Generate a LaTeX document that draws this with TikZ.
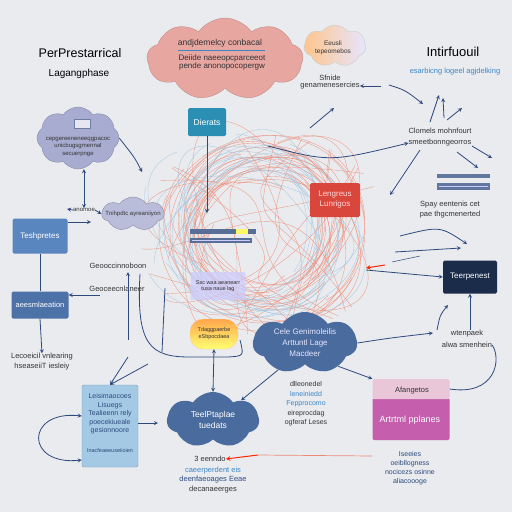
\documentclass[tikz,border=0pt]{standalone}
\usepackage{fontspec}
\setmainfont{Liberation Sans}
\usetikzlibrary{shapes.symbols}
\definecolor{bg}{HTML}{E9EBEF}
\definecolor{navy}{HTML}{2E4A7D}
\definecolor{txtblue}{HTML}{3B86C4}
\definecolor{pinkcl}{HTML}{E8A6A1}
\definecolor{lavcl}{HTML}{A9ACD1}
\definecolor{tealbox}{HTML}{2B8FB4}
\definecolor{blueboxA}{HTML}{5A86C0}
\definecolor{blueboxB}{HTML}{4D72A8}
\definecolor{lightbox}{HTML}{A3C9E5}
\definecolor{navycl}{HTML}{4A6B9D}
\definecolor{darkbox}{HTML}{1B2B4A}
\definecolor{redbox}{HTML}{D9463B}
\definecolor{pinkbox}{HTML}{C45EAD}
\definecolor{pinktab}{HTML}{E9C6D8}
\definecolor{netr}{HTML}{EE8A74}
\definecolor{netb}{HTML}{9FC4DF}
\begin{document}
\begin{tikzpicture}[x=1pt, y=-1pt, >=stealth,
  lbl/.style={font=\fontsize{7.5}{8.5}\selectfont, text=black!80, inner sep=0pt},
  blbl/.style={lbl, text=txtblue},
  wlbl/.style={lbl, text=white},
  arr/.style={->, navy, line width=0.8pt},
  wire/.style={navy, line width=0.8pt},
  cloudbox/.style={cloud, cloud puffs=9, cloud puff arc=110, aspect=2, inner sep=0pt},
  box/.style={rectangle, rounded corners=1.5pt, inner sep=0pt},
  netred/.style={draw=netr, line width=0.35pt, opacity=0.85},
  netblue/.style={draw=netb, line width=0.35pt, opacity=0.85}]
\fill[bg] (0,0) rectangle (512,512);
\useasboundingbox (0,0) rectangle (512,512);

% wire ball
\pgfmathsetseed{11}
\foreach \i in {1,...,44}{
  \pgfmathsetmacro{\rx}{random(55,122)}
  \pgfmathsetmacro{\ry}{random(45,100)}
  \pgfmathsetmacro{\rot}{random(0,179)}
  \pgfmathsetmacro{\st}{random(0,359)}
  \pgfmathsetmacro{\span}{random(90,260)}
  \pgfmathsetmacro{\nsx}{262+\rx*cos(\st)}
  \pgfmathsetmacro{\nsy}{232+\ry*sin(\st)}
  \draw[netred, rotate around={\rot:(262,232)}] (\nsx,\nsy) arc[start angle=\st, delta angle=\span, x radius=\rx, y radius=\ry];
}
\foreach \i in {1,...,26}{
  \pgfmathsetmacro{\rx}{random(55,122)}
  \pgfmathsetmacro{\ry}{random(45,100)}
  \pgfmathsetmacro{\rot}{random(0,179)}
  \pgfmathsetmacro{\st}{random(0,359)}
  \pgfmathsetmacro{\span}{random(90,260)}
  \pgfmathsetmacro{\nsx}{255+\rx*cos(\st)}
  \pgfmathsetmacro{\nsy}{228+\ry*sin(\st)}
  \draw[netblue, rotate around={\rot:(255,228)}] (\nsx,\nsy) arc[start angle=\st, delta angle=\span, x radius=\rx, y radius=\ry];
}
\foreach \i in {1,...,14}{
  \pgfmathsetmacro{\angA}{random(0,359)}
  \pgfmathsetmacro{\angB}{\angA+random(90,230)}
  \pgfmathsetmacro{\nsx}{265+125*cos(\angA)}
  \pgfmathsetmacro{\nsy}{235+100*sin(\angA)}
  \pgfmathsetmacro{\nex}{265+125*cos(\angB)}
  \pgfmathsetmacro{\ney}{235+100*sin(\angB)}
  \pgfmathsetmacro{\npx}{265+random(-110,110)}
  \pgfmathsetmacro{\npy}{235+random(-95,95)}
  \pgfmathsetmacro{\nqx}{265+random(-110,110)}
  \pgfmathsetmacro{\nqy}{235+random(-95,95)}
  \draw[netred] (\nsx,\nsy) .. controls (\npx,\npy) and (\nqx,\nqy) .. (\nex,\ney);
}

% titles
\node[font=\fontsize{12.5}{14}\selectfont] (ttlPre) at (80,53) {PerPrestarrical};
\node[font=\fontsize{10}{12}\selectfont] (ttlLag) at (79,74) {Lagangphase};
\node[font=\fontsize{13}{15}\selectfont] (ttlInt) at (453,52) {Intirfuouil};
\node[blbl, font=\fontsize{7.5}{9}\selectfont] (intSub) at (455,72) {esarbicng logeel agjdelking};

% top clouds
\node[cloudbox, fill=pinkcl, draw=pinkcl!85!black, minimum width=156pt, minimum height=82pt] (pinkCl) at (225,59) {};
\node[lbl, font=\fontsize{8.5}{9.5}\selectfont] (pinkA) at (220,43) {andjdemelcy conbacal};
\draw[txtblue, line width=1pt] (178,50) -- (265,50);
\node[lbl, font=\fontsize{8}{9}\selectfont] (pinkB) at (222,58) {Deiide naeeopcparceeot};
\node[lbl, font=\fontsize{8}{9}\selectfont] (pinkC) at (222,66) {pende anonopocopergw};
\node[cloudbox, cloud puffs=7, left color=orange!45, right color=blue!10, draw=black!20, minimum width=62pt, minimum height=42pt] (yelCl) at (335,46) {};
\node[lbl, align=center, font=\fontsize{6.5}{7.5}\selectfont] (yelTx) at (333,48) {Eeusli\\tepeomebos};
\node[lbl] (shideA) at (330,78) {Sfnide};
\node[lbl] (shideB) at (330,86) {genamenesercies};

\node[box, fill=tealbox, minimum width=38pt, minimum height=28pt, wlbl, font=\fontsize{8.5}{9.5}\selectfont] (dierBox) at (207,122) {Dierats};

% left column
\node[cloudbox, cloud puffs=8, fill=lavcl, draw=lavcl!80!black, minimum width=82pt, minimum height=62pt] (lavCl) at (78,138) {};
\filldraw[fill=white!70!lavcl, draw=navy!70] (74,119) rectangle (90,128);
\node[lbl, align=center, font=\fontsize{6}{7.5}\selectfont] (lavTx) at (78,147) {cepgereeneneeqgpacoc\\unicbugsgmennal\\secuerpnge};
\node[cloudbox, cloud puffs=7, fill=lavcl!80, draw=lavcl!80!black, minimum width=62pt, minimum height=34pt] (tnihCl) at (133,214) {};
\node[lbl, font=\fontsize{6}{7}\selectfont] (tnihTx) at (133,214) {Tnihpdtc ayreaniiyon};
\node[lbl, font=\fontsize{6}{7}\selectfont] (anomTx) at (84,210) {anomoe};
\coordinate (anomOut) at (67,209);
\draw[arr] (anomTx.east) -- (tnihCl.west);
\draw[arr] (anomTx.west) -- (anomOut);
\draw[arr, <->] (lavCl.south -| anomTx.north) -- (anomTx.north);
\draw[arr] (lavCl.east) .. controls (135,158) .. (142,172);

\node[box, fill=blueboxA, minimum width=55pt, minimum height=35pt, wlbl, font=\fontsize{8}{9}\selectfont] (teshBox) at (40,236) {Teshpretes};
\coordinate (teshOut) at (91,222);
\draw[arr] (teshBox.east |- teshOut) -- (teshOut);
\node[box, fill=blueboxB, minimum width=57pt, minimum height=27pt, wlbl, font=\fontsize{7.5}{9}\selectfont] (aeesBox) at (40,305) {aeesmlaeation};
\draw[wire] (teshBox.south) -- (aeesBox.north);
\node[lbl] (geoA) at (118,266) {Geooccinnoboon};
\node[lbl] (geoB) at (117,289) {Geoceecnlaneer};
\coordinate (geoBin) at (100,295);
\draw[arr] (geoBin) -- (aeesBox.east |- geoBin);
\node[lbl] (lecA) at (42,357) {Lecoeicil vnlearing};
\node[lbl] (lecB) at (42,367) {hseaseiiT iesleiy};
\draw[arr] (aeesBox.south) -- (lecA.north);

\node[box, fill=lightbox, draw=lightbox!80!black, minimum width=56pt, minimum height=82pt] (lBox) at (110,426) {};
\node[lbl, text=navy, align=center, font=\fontsize{7}{8.5}\selectfont] (lbTx) at (110,414) {Leisimaocoes\\Lisuegs\\Tealieenn rely\\poecekiueale\\gesionnoore};
\node[lbl, text=navy, font=\fontsize{5.5}{6.5}\selectfont] (lbFt) at (110,451) {Inacfeaeeuseiioien};
\draw[arr, <->] (lBox.west |- 0,416) .. controls (25,410) and (25,466) .. (lBox.west |- 0,460);
\coordinate (lBoxOut) at (158,423);
\draw[arr] (lBox.east |- lBoxOut) -- (lBoxOut);

\coordinate (vTop) at (128,357);
\draw[arr] (128,340) -- (128,272);
\draw[arr] (vTop) -- (lBox.north);
\draw[arr] (148,364) -- (lBox.north);
\draw[wire] (140,274) .. controls (136,345) and (150,357) .. (190,357) -- (228,357) .. controls (244,356) .. (240,340);
\draw[wire] (165,288) -- (162,352);

% middle
\node[box, rounded corners=1pt, fill=blue!20, opacity=0.7, minimum width=55pt, minimum height=28pt] (glassBox) at (218,286) {};
\node[lbl, align=center, font=\fontsize{5.5}{6.5}\selectfont] (glassTx) at (218,286) {Ssc waa aeanearr\\tusa naue lag};
\node[rounded corners=13pt, top color=orange!70, bottom color=yellow!55, draw=orange!40, minimum width=48pt, minimum height=30pt] (blobNd) at (214,334) {};
\node[lbl, align=center, font=\fontsize{5.5}{7}\selectfont] (blobTx) at (214,334) {Tdaggpaerbe\\eSbpocdaea};

\node[cloudbox, cloud puffs=7, fill=navycl, minimum width=92pt, minimum height=56pt] (tplCl) at (213,420) {};
\node[wlbl, align=center, font=\fontsize{8.5}{11}\selectfont] (tplTx) at (213,420) {TeelPtaplae\\tuedats};
\draw[arr, <->] (blobNd.south) -- (tplCl.north);
\node[lbl] (tA) at (210,459) {3 eenndo};
\node[blbl] (tB) at (213,471) {caeerperdent eis};
\node[lbl, text=navy] (tC) at (213,480) {deenfaeoages Eeae};
\node[lbl] (tD) at (213,490) {decanaeerges};
\draw[->, red!70!orange, line width=1pt] (258,455) -- (tA.east);
\draw[netr, line width=0.7pt] (258,455) -- (372,456);

\node[box, fill=redbox, minimum width=50pt, minimum height=34pt] (redBox) at (335,200) {};
\node[lbl, text=pink!60, align=center, font=\fontsize{8}{10}\selectfont] (redTx) at (335,200) {Lengreus\\Lunrigos};
\draw[arr] (dierBox.south) -- (207,213);
\fill[navy!80] (190,229) rectangle (256,234);
\fill[yellow!60] (236,229) rectangle (248,234);
\fill[navy!80] (190,238) rectangle (252,243);
\draw[white!80!blue, line width=0.4pt] (192,240.5) -- (250,240.5);

\node[cloudbox, cloud puffs=7, fill=navycl, minimum width=104pt, minimum height=62pt] (gCl) at (305,343) {};
\node[lbl, text=white!90!blue, align=center, font=\fontsize{8}{11}\selectfont] (gTx) at (305,343) {Cele Genimoleilis\\Arttuntl Lage\\Macdeer};
\draw[arr] (gCl.225) -- (tplCl.35);
\node[lbl, align=center, font=\fontsize{7}{9.5}\selectfont] (dlTx) at (306,404) {dlleonedel\\\textcolor{txtblue}{leneiniedd}\\\textcolor{txtblue}{Fepprocomo}\\eireprocdag\\ogferaf Leses};

% right column
\node[box, fill=darkbox, minimum width=54pt, minimum height=33pt, wlbl, font=\fontsize{8}{9}\selectfont] (darkBox) at (470,277) {Teerpenest};
\node[lbl] (wtA) at (467,334) {wtenpaek};
\node[lbl] (wtB) at (467,345) {alwa smenhein};
\coordinate (gOut) at (433,333);
\draw[arr] (gCl.east) .. controls (390,338) .. (gOut);
\draw[arr] (437,330) .. controls (440,315) .. (448,305);
\draw[arr] (wtA.north -| darkBox.south) -- (darkBox.south);
\draw[arr] (366,270) -- (darkBox.west);
\draw[->, red!70!orange, line width=1pt] (385,265) -- (366,268);
\draw[wire, line width=0.5pt] (392,262) -- (420,256);

\node[box, fill=pinkbox, minimum width=77pt, minimum height=42pt] (magBox) at (411,419) {};
\node[box, fill=pinktab, minimum width=77pt, minimum height=20pt] (magTab) at (411,389) {};
\node[lbl] (magTabTx) at (412,391) {Afangetos};
\node[lbl, text=white, font=\fontsize{9}{10}\selectfont] (magTx) at (410,420) {Artrtml pplanes};
\draw[arr] (gCl.-35) -- (magTab.north west);
\draw[wire] (magTab.east) .. controls (495,396) and (502,360) .. (wtB.east);
\node[lbl, align=center, text=navy, font=\fontsize{7}{9}\selectfont] (magSub) at (410,468) {Iseeies\\oeibllogness\\nocicezs osinne\\aliacoooge};

\fill[navy!75] (437,174) rectangle (490,178);
\fill[navy!75] (437,183) rectangle (490,190);
\draw[white!80!blue, line width=0.4pt] (439,186.5) -- (488,186.5);
\node[lbl] (spayA) at (450,205) {Spay eentenis cet};
\node[lbl] (spayB) at (450,215) {pae thgcmenerted};
\draw[arr] (400,236) .. controls (440,226) .. (467,244);
\draw[arr] (395,252) -- (461,248);

\node[lbl] (clA) at (440,131) {Clomels mohnfourt};
\node[lbl] (clB) at (440,143) {smeetbonngeorros};
\draw[arr] (268,146) .. controls (330,162) .. (clB.west);
\draw[arr] (420,150) -- (390,195);
\draw[arr] (472,146) -- (492,158);
\draw[arr] (457,152) -- (478,168);
\draw[arr] (430,122) -- (439,95);
\draw[arr] (444,118) -- (443,98);
\draw[arr] (447,120) -- (462,108);
\draw[arr] (381,86) -- (shideB.east);
\draw[arr] (389,85) .. controls (405,90) .. (423,104);
\draw[arr] (310,128) -- (334,108);
\end{tikzpicture}
\end{document}
